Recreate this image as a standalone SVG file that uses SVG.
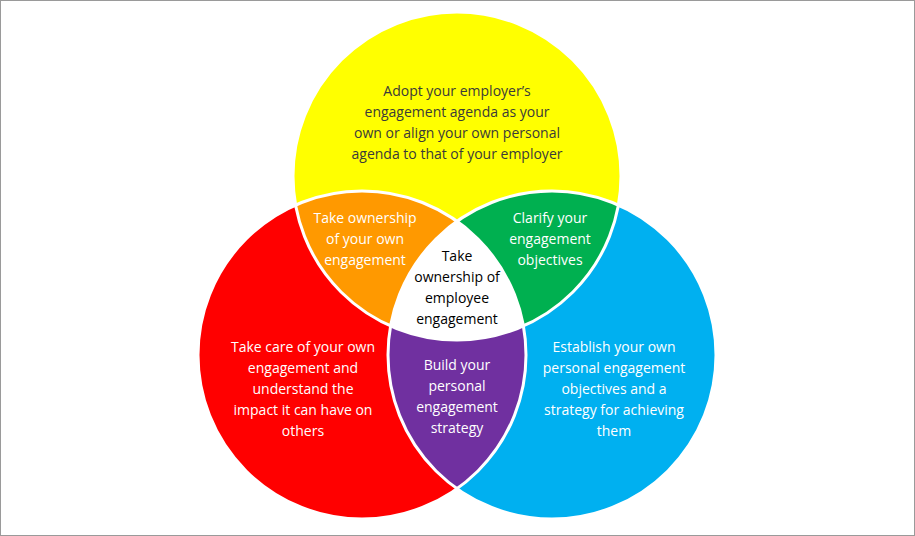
<svg xmlns="http://www.w3.org/2000/svg" width="915" height="536" viewBox="0 0 915 536">
<style>
text{font-family:"Open Sans","Liberation Sans",sans-serif;font-size:14px;text-anchor:middle}
.w{fill:#fff}.d{fill:#3a3a3a}.k{fill:#000}
.o{fill:none;stroke:#fff;stroke-width:3}
</style>
<defs>
<clipPath id="cy"><circle cx="457" cy="176" r="164"/></clipPath>
<clipPath id="cr"><circle cx="362" cy="355" r="164"/></clipPath>
<clipPath id="cb"><circle cx="552" cy="355" r="164"/></clipPath>
</defs>
<rect x="0.5" y="0.5" width="914" height="535" fill="#fff" stroke="#9a9a9a"/>
<g id="yellow"><circle cx="457" cy="176" r="164" fill="#ffff00"/></g>
<g id="red"><circle cx="362" cy="355" r="164" fill="#ff0000"/></g>
<g id="blue"><circle cx="552" cy="355" r="164" fill="#00b0f0"/></g>
<g id="orange" clip-path="url(#cy)"><circle cx="362" cy="355" r="164" fill="#ff9900"/></g>
<g id="green" clip-path="url(#cy)"><circle cx="552" cy="355" r="164" fill="#00b050"/></g>
<g id="purple" clip-path="url(#cr)"><circle cx="552" cy="355" r="164" fill="#7030a0"/></g>
<g id="center" clip-path="url(#cy)"><g clip-path="url(#cr)"><circle cx="552" cy="355" r="164" fill="#fff"/></g></g>
<g id="outlines">
<circle class="o" cx="457" cy="176" r="164"/>
<circle class="o" cx="362" cy="355" r="164"/>
<circle class="o" cx="552" cy="355" r="164"/>
</g>
<g id="labels">
<text class="d" x="457" y="96">Adopt your employer’s</text>
<text class="d" x="457" y="117">engagement agenda as your</text>
<text class="d" x="457" y="138">own or align your own personal</text>
<text class="d" x="457" y="159">agenda to that of your employer</text>
<text class="w" x="365" y="223">Take ownership</text>
<text class="w" x="365" y="244">of your own</text>
<text class="w" x="365" y="265">engagement</text>
<text class="w" x="550" y="223">Clarify your</text>
<text class="w" x="550" y="244">engagement</text>
<text class="w" x="550" y="265">objectives</text>
<text class="k" x="457" y="261">Take</text>
<text class="k" x="457" y="282">ownership of</text>
<text class="k" x="457" y="303">employee</text>
<text class="k" x="457" y="324">engagement</text>
<text class="w" x="457" y="370">Build your</text>
<text class="w" x="457" y="391">personal</text>
<text class="w" x="457" y="412">engagement</text>
<text class="w" x="457" y="433">strategy</text>
<text class="w" x="303" y="352">Take care of your own</text>
<text class="w" x="303" y="373">engagement and</text>
<text class="w" x="303" y="394">understand the</text>
<text class="w" x="303" y="415">impact it can have on</text>
<text class="w" x="303" y="436">others</text>
<text class="w" x="614" y="352">Establish your own</text>
<text class="w" x="614" y="373">personal engagement</text>
<text class="w" x="614" y="394">objectives and a</text>
<text class="w" x="614" y="415">strategy for achieving</text>
<text class="w" x="614" y="436">them</text>
</g>
</svg>
